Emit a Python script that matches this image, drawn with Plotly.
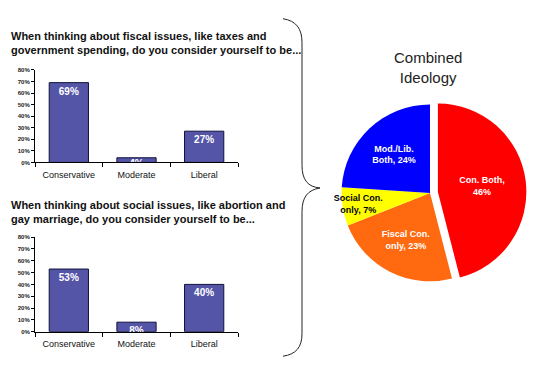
import plotly.graph_objects as go

categories = ["Conservative", "Moderate", "Liberal"]
fiscal_values = [69, 4, 27]
social_values = [53, 8, 40]
y_ticks = [0, 10, 20, 30, 40, 50, 60, 70, 80]
y_tick_labels = [f"{t}%" for t in y_ticks]

pie_labels = ["Con. Both,<br>46%", "Fiscal Con.<br>only, 23%", "Social Con.<br>only, 7%", "Mod./Lib.<br>Both, 24%"]
pie_values = [46, 23, 7, 24]
pie_colors = ["#ff0000", "#ff6a10", "#ffff00", "#0000ff"]
pie_text_colors = ["white", "white", "black", "white"]
pie_pull = [0.09, 0, 0, 0]

fiscal_title = "When thinking about fiscal issues, like taxes and<br>government spending, do you consider yourself to be..."
social_title = "When thinking about social issues, like abortion and<br>gay marriage, do you consider yourself to be..."
pie_title = "Combined<br>Ideology"

W, H = 541, 373
FONT = "Liberation Sans, Arial, sans-serif"


def px(x):
    return x / W


def py(y):
    return 1 - y / H


fig = go.Figure()

bar_style = dict(
    marker=dict(color="#5555a8", line=dict(color="#10103a", width=1)),
    textposition="inside",
    insidetextanchor="end",
    constraintext="none",
    textfont=dict(family=FONT, size=10, color="white", weight="bold"),
    width=0.58,
    showlegend=False,
    hoverinfo="skip",
    cliponaxis=False,
)

fig.add_trace(go.Bar(x=categories, y=fiscal_values, text=[f"{v}%" for v in fiscal_values],
                     xaxis="x", yaxis="y", **bar_style))
fig.add_trace(go.Bar(x=categories, y=social_values, text=[f"{v}%" for v in social_values],
                     xaxis="x2", yaxis="y2", **bar_style))

fig.add_trace(go.Pie(
    values=pie_values, text=pie_labels, textinfo="text", sort=False,
    direction="clockwise", rotation=0, pull=pie_pull,
    marker=dict(colors=pie_colors, line=dict(width=0)),
    textposition="inside", insidetextorientation="horizontal",
    textfont=dict(family=FONT, size=9, color=pie_text_colors, weight="bold"),
    domain=dict(x=[px(430 - 98), px(430 + 98)], y=[py(193 + 98), py(193 - 98)]),
    showlegend=False, hoverinfo="skip",
))

xaxis_style = dict(
    showline=True, linecolor="black", linewidth=1,
    ticks="outside", tickson="boundaries", ticklen=4, tickcolor="black",
    ticklabelstandoff=4,
    tickfont=dict(family=FONT, size=9, color="#111"),
    showgrid=False, fixedrange=True,
)
yaxis_style = dict(
    range=[0, 80], tickmode="array", tickvals=y_ticks, ticktext=y_tick_labels,
    showline=True, linecolor="black", linewidth=1,
    ticks="outside", ticklen=3, tickcolor="black",
    tickfont=dict(family=FONT, size=6, color="#222", weight="bold"),
    showgrid=False, zeroline=False, fixedrange=True,
)

fig.update_layout(
    width=W, height=H,
    margin=dict(l=0, r=0, t=0, b=0),
    paper_bgcolor="white", plot_bgcolor="white",
    bargap=0.42,
    uniformtext=dict(minsize=9, mode="show"),
    xaxis=dict(domain=[px(35), px(238)], anchor="y", **xaxis_style),
    yaxis=dict(domain=[py(162), py(68)], anchor="x", **yaxis_style),
    xaxis2=dict(domain=[px(35), px(238)], anchor="y2", **xaxis_style),
    yaxis2=dict(domain=[py(334), py(238)], anchor="x2", **yaxis_style),
    font=dict(family=FONT),
)

fig.add_annotation(text=fiscal_title, xref="paper", yref="paper", x=px(9), y=py(25),
                   xanchor="left", yanchor="top", align="left", showarrow=False,
                   font=dict(family=FONT, size=11, color="#111", weight="bold"))
fig.add_annotation(text=social_title, xref="paper", yref="paper", x=px(9), y=py(197),
                   xanchor="left", yanchor="top", align="left", showarrow=False,
                   font=dict(family=FONT, size=11, color="#111", weight="bold"))
fig.add_annotation(text=pie_title, xref="paper", yref="paper", x=px(428), y=py(45),
                   xanchor="center", yanchor="top", align="center", showarrow=False,
                   font=dict(family=FONT, size=15, color="#222"))

# curly brace
brace = (f"M {px(283)},{py(16)} C {px(296)},{py(18)} {px(302)},{py(26)} {px(302)},{py(40)} "
         f"L {px(302)},{py(165)} C {px(302)},{py(180)} {px(308)},{py(187)} {px(320)},{py(188)} "
         f"C {px(308)},{py(190)} {px(302)},{py(197)} {px(302)},{py(212)} "
         f"L {px(302)},{py(336)} C {px(302)},{py(350)} {px(296)},{py(357)} {px(283)},{py(359)}")
fig.add_shape(type="path", path=brace, xref="paper", yref="paper",
              line=dict(color="#222", width=1))

fig.write_html("out.html")
